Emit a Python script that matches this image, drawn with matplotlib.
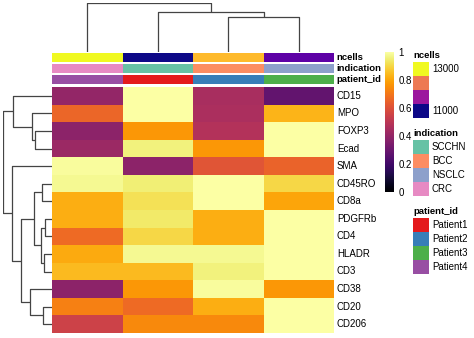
import numpy as np
import matplotlib
matplotlib.use('Agg')
import matplotlib.pyplot as plt
from matplotlib.patches import Rectangle
from matplotlib.colors import Normalize

plt.rcParams['font.family'] = ['Liberation Sans', 'DejaVu Sans']

# data
markers = ['CD15', 'MPO', 'FOXP3', 'Ecad', 'SMA', 'CD45RO', 'CD8a', 'PDGFRb',
           'CD4', 'HLADR', 'CD3', 'CD38', 'CD20', 'CD206']
values = np.array([
    [0.40, 1.00, 0.45, 0.28],
    [0.66, 1.00, 0.46, 0.83],
    [0.38, 0.77, 0.48, 1.00],
    [0.42, 0.96, 0.77, 1.00],
    [0.99, 0.38, 0.61, 0.65],
    [0.98, 0.95, 1.00, 0.90],
    [0.82, 0.92, 1.00, 0.80],
    [0.82, 0.94, 0.82, 1.00],
    [0.67, 0.90, 0.82, 1.00],
    [0.81, 0.98, 0.98, 1.00],
    [0.84, 0.84, 0.96, 1.00],
    [0.38, 0.77, 0.99, 0.77],
    [0.72, 0.67, 0.82, 1.00],
    [0.55, 0.74, 0.74, 1.00],
])
ncells = [13000, 11000, 12700, 11340]
indication = ['CRC', 'SCCHN', 'BCC', 'NSCLC']
patient_id = ['Patient4', 'Patient1', 'Patient2', 'Patient3']

indication_levels = ['SCCHN', 'BCC', 'NSCLC', 'CRC']
indication_colors = ['#66C2A5', '#FC8D62', '#8DA0CB', '#E78AC3']
patient_levels = ['Patient1', 'Patient2', 'Patient3', 'Patient4']
patient_colors = ['#E41A1C', '#377EB8', '#4DAF4A', '#984EA3']

# dendrograms: (left, right, height)
row_tree = (('CD15', ('MPO', ('FOXP3', 'Ecad', 17), 20), 39),
            ('SMA', ((('CD45RO', 'CD8a', 10),
                      (('PDGFRb', 'CD4', 7), ('HLADR', 'CD3', 8), 11), 18),
                     ('CD38', ('CD20', 'CD206', 9), 22), 31), 40), 49)
col_tree = (0, (1, (2, 3, 35), 40), 49)

W, H = 474, 338
fig = plt.figure(figsize=(W / 100, H / 100), dpi=100)


def px_axes(x0, y0, x1, y1):
    return fig.add_axes([x0 / W, 1 - y1 / H, (x1 - x0) / W, (y1 - y0) / H])


hx0, hx1, hy0, hy1 = 52, 334, 87, 333
lc = '#444444'

# heatmap
ax = px_axes(hx0, hy0, hx1, hy1)
ax.pcolormesh(np.arange(5), np.arange(15), values, cmap='inferno', vmin=0, vmax=1)
ax.set_xlim(0, 4)
ax.set_ylim(14, 0)
ax.set_axis_off()
for i, m in enumerate(markers):
    ax.text(4.04, i + 0.5, m, fontsize=7, va='center', ha='left')

# annotation rows
nnorm = Normalize(min(ncells), max(ncells))
plasma = plt.get_cmap('plasma')
ann = [('ncells', [plasma(float(nnorm(v))) for v in ncells]),
       ('indication', [indication_colors[indication_levels.index(v)] for v in indication]),
       ('patient_id', [patient_colors[patient_levels.index(v)] for v in patient_id])]
for k, (name, cols) in enumerate(ann):
    y0 = 53 + k * 11
    a = px_axes(hx0, y0, hx1, y0 + 8.5)
    for j, c in enumerate(cols):
        a.add_patch(Rectangle((j, 0), 1, 1, color=c, lw=0))
    a.set_xlim(0, 4)
    a.set_ylim(0, 1)
    a.set_axis_off()
    a.text(4.04, 0.45, name, fontsize=6.8, fontweight='bold', va='center', ha='left')


def draw_tree(axd, node, leaf_pos, orient):
    if not isinstance(node, tuple):
        return leaf_pos(node), 0
    l, r, h = node
    pl, hl = draw_tree(axd, l, leaf_pos, orient)
    pr, hr = draw_tree(axd, r, leaf_pos, orient)
    if orient == 'row':
        axd.plot([hl, h, h, hr], [pl, pl, pr, pr], color=lc, lw=0.9, solid_capstyle='butt')
    else:
        axd.plot([pl, pl, pr, pr], [hl, h, h, hr], color=lc, lw=0.9, solid_capstyle='butt')
    return (pl + pr) / 2, h


# row dendrogram
ard = px_axes(3, hy0, hx0, hy1)
draw_tree(ard, row_tree, lambda n: markers.index(n) + 0.5, 'row')
ard.set_xlim(49, 0)
ard.set_ylim(14, 0)
ard.set_axis_off()

# column dendrogram
acd = px_axes(hx0, 3, hx1, 52)
draw_tree(acd, col_tree, lambda n: n + 0.5, 'col')
acd.set_xlim(0, 4)
acd.set_ylim(0, 49)
acd.set_axis_off()

# colorbar
cax = px_axes(385, 52, 394, 192)
grad = np.linspace(0, 1, 256).reshape(-1, 1)
cax.imshow(grad, cmap='inferno', aspect='auto', origin='lower', extent=[0, 1, 0, 1])
cax.set_xticks([])
cax.yaxis.tick_right()
cax.set_yticks([0, 0.2, 0.4, 0.6, 0.8, 1])
cax.set_yticklabels(['0', '0.2', '0.4', '0.6', '0.8', '1'])
cax.tick_params(axis='y', length=0, pad=3, labelsize=7)
for s in cax.spines.values():
    s.set_visible(False)

# discrete legends
lg = px_axes(0, 0, W, H)
lg.set_xlim(0, W)
lg.set_ylim(H, 0)
lg.set_axis_off()
bx, bw, bh = 413, 16, 14

lg.text(bx, 56, 'ncells', fontsize=6.8, fontweight='bold', va='center')
ncell_breaks = [1.0, 2 / 3, 1 / 3, 0.0]
ncell_labels = [str(max(ncells)), '', '', str(min(ncells))]
for i, (f, t) in enumerate(zip(ncell_breaks, ncell_labels)):
    y = 62 + i * bh
    lg.add_patch(Rectangle((bx, y), bw, bh, color=plasma(float(f)), lw=0))
    lg.text(bx + bw + 3, y + bh / 2, t, fontsize=7, va='center')

lg.text(bx, 133, 'indication', fontsize=6.8, fontweight='bold', va='center')
for i, (t, c) in enumerate(zip(indication_levels, indication_colors)):
    y = 140 + i * bh
    lg.add_patch(Rectangle((bx, y), bw, bh, color=c, lw=0))
    lg.text(bx + bw + 3, y + bh / 2, t, fontsize=7, va='center')

lg.text(bx, 211, 'patient_id', fontsize=6.8, fontweight='bold', va='center')
for i, (t, c) in enumerate(zip(patient_levels, patient_colors)):
    y = 218 + i * bh
    lg.add_patch(Rectangle((bx, y), bw, bh, color=c, lw=0))
    lg.text(bx + bw + 3, y + bh / 2, t, fontsize=7, va='center')

fig.savefig('out.png', dpi=100)
